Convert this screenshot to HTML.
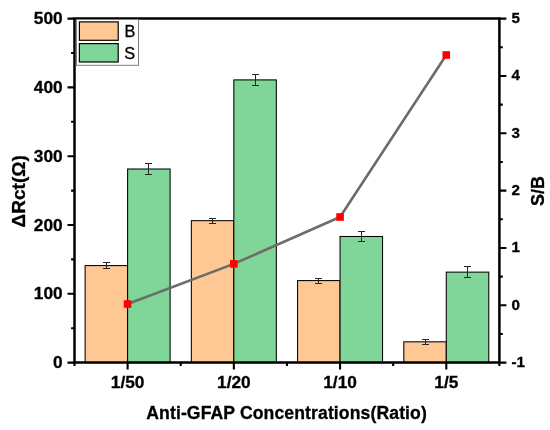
<!DOCTYPE html>
<html><head><meta charset="utf-8"><title>Chart</title>
<style>html,body{margin:0;padding:0;background:#fff;width:550px;height:430px;overflow:hidden}svg{display:block}text{stroke:#000;stroke-width:0.3px;paint-order:stroke}</style>
</head><body>
<svg width="550" height="430" viewBox="0 0 550 430" font-family="'Liberation Sans', Arial, sans-serif" font-weight="bold">
<rect x="85.12" y="265.59" width="42.49" height="97.01" fill="#FFC794" stroke="#000" stroke-width="1.05"/><path d="M103.00 262.50H110.00M106.50 262.50V268.50M103.00 268.50H110.00" stroke="#262626" stroke-width="1" fill="none"/><rect x="127.61" y="169.00" width="42.49" height="193.60" fill="#7FD698" stroke="#000" stroke-width="1.05"/><path d="M145.00 163.50H152.00M148.50 163.50V174.50M145.00 174.50H152.00" stroke="#262626" stroke-width="1" fill="none"/><rect x="191.35" y="220.67" width="42.49" height="141.93" fill="#FFC794" stroke="#000" stroke-width="1.05"/><path d="M209.00 218.50H216.00M212.50 218.50V223.50M209.00 223.50H216.00" stroke="#262626" stroke-width="1" fill="none"/><rect x="233.84" y="79.90" width="42.49" height="282.70" fill="#7FD698" stroke="#000" stroke-width="1.05"/><path d="M252.00 74.50H259.00M255.50 74.50V85.50M252.00 85.50H259.00" stroke="#262626" stroke-width="1" fill="none"/><rect x="297.57" y="280.59" width="42.49" height="82.01" fill="#FFC794" stroke="#000" stroke-width="1.05"/><path d="M315.00 278.50H322.00M318.50 278.50V283.50M315.00 283.50H322.00" stroke="#262626" stroke-width="1" fill="none"/><rect x="340.06" y="236.49" width="42.49" height="126.11" fill="#7FD698" stroke="#000" stroke-width="1.05"/><path d="M358.00 231.50H365.00M361.50 231.50V241.50M358.00 241.50H365.00" stroke="#262626" stroke-width="1" fill="none"/><rect x="403.80" y="341.82" width="42.49" height="20.78" fill="#FFC794" stroke="#000" stroke-width="1.05"/><path d="M422.00 339.50H429.00M425.50 339.50V344.50M422.00 344.50H429.00" stroke="#262626" stroke-width="1" fill="none"/><rect x="446.29" y="272.13" width="42.49" height="90.47" fill="#7FD698" stroke="#000" stroke-width="1.05"/><path d="M464.00 266.50H471.00M467.50 266.50V277.50M464.00 277.50H471.00" stroke="#262626" stroke-width="1" fill="none"/><polyline points="127.61,304.00 233.84,263.90 340.06,217.00 446.29,55.00" fill="none" stroke="#6C6C6C" stroke-width="2.6" stroke-linejoin="round"/><rect x="123.81" y="300.20" width="7.6" height="7.6" fill="#FF0000"/><rect x="230.04" y="260.10" width="7.6" height="7.6" fill="#FF0000"/><rect x="336.26" y="213.20" width="7.6" height="7.6" fill="#FF0000"/><rect x="442.49" y="51.20" width="7.6" height="7.6" fill="#FF0000"/>
<path d="M73.3 18.6H500.59999999999997 M73.3 362.6H500.59999999999997 M74.5 18.6V362.6 M499.4 18.6V362.6" stroke="#000" stroke-width="2.5" fill="none"/><path d="M67.5 362.60H74.5 M71.1 328.20H74.5 M67.5 293.80H74.5 M71.1 259.40H74.5 M67.5 225.00H74.5 M71.1 190.60H74.5 M67.5 156.20H74.5 M71.1 121.80H74.5 M67.5 87.40H74.5 M71.1 53.00H74.5 M67.5 18.60H74.5 M499.4 362.60H506.4 M499.4 333.93H502.79999999999995 M499.4 305.27H506.4 M499.4 276.60H502.79999999999995 M499.4 247.93H506.4 M499.4 219.27H502.79999999999995 M499.4 190.60H506.4 M499.4 161.93H502.79999999999995 M499.4 133.27H506.4 M499.4 104.60H502.79999999999995 M499.4 75.93H506.4 M499.4 47.27H502.79999999999995 M499.4 18.60H506.4 M74.50 362.6V365.90000000000003 M180.72 362.6V365.90000000000003 M286.95 362.6V365.90000000000003 M393.17 362.6V365.90000000000003 M499.40 362.6V365.90000000000003 M127.61 362.6V369.40000000000003 M233.84 362.6V369.40000000000003 M340.06 362.6V369.40000000000003 M446.29 362.6V369.40000000000003" stroke="#000" stroke-width="2.1" fill="none"/>
<rect x="76.5" y="19.5" width="62" height="45.8" fill="#fff" stroke="#808080" stroke-width="1"/>
<rect x="79.4" y="21.9" width="38.8" height="18.4" fill="#FFC794" stroke="#000" stroke-width="1.2"/>
<rect x="79.4" y="43.6" width="38.8" height="18.4" fill="#7FD698" stroke="#000" stroke-width="1.2"/>
<text x="124.6" y="36.7" font-size="16.3" font-weight="normal">B</text>
<text x="124.2" y="58.9" font-size="16.3" font-weight="normal">S</text>
<text x="62.7" y="368.10" text-anchor="end" font-size="17.3">0</text><text x="62.7" y="299.30" text-anchor="end" font-size="17.3">100</text><text x="62.7" y="230.50" text-anchor="end" font-size="17.3">200</text><text x="62.7" y="161.70" text-anchor="end" font-size="17.3">300</text><text x="62.7" y="92.90" text-anchor="end" font-size="17.3">400</text><text x="62.7" y="24.10" text-anchor="end" font-size="17.3">500</text><text x="511.4" y="367.10" text-anchor="start" font-size="15.2">-1</text><text x="511.4" y="309.77" text-anchor="start" font-size="15.2">0</text><text x="511.4" y="252.43" text-anchor="start" font-size="15.2">1</text><text x="511.4" y="195.10" text-anchor="start" font-size="15.2">2</text><text x="511.4" y="137.77" text-anchor="start" font-size="15.2">3</text><text x="511.4" y="80.43" text-anchor="start" font-size="15.2">4</text><text x="511.4" y="23.10" text-anchor="start" font-size="15.2">5</text><text x="127.61" y="388.4" text-anchor="middle" font-size="17.3">1/50</text><text x="233.84" y="388.4" text-anchor="middle" font-size="17.3">1/20</text><text x="340.06" y="388.4" text-anchor="middle" font-size="17.3">1/10</text><text x="446.29" y="388.4" text-anchor="middle" font-size="17.3">1/5</text><text x="286.6" y="418.8" text-anchor="middle" font-size="17.6" letter-spacing="0.11">Anti-GFAP Concentrations(Ratio)</text><text transform="translate(25.4 191.3) rotate(-90)" text-anchor="middle" font-size="19">ΔRct(Ω)</text><text transform="translate(543.6 191) rotate(-90)" text-anchor="middle" font-size="17.9">S/B</text>
</svg>
</body></html>
